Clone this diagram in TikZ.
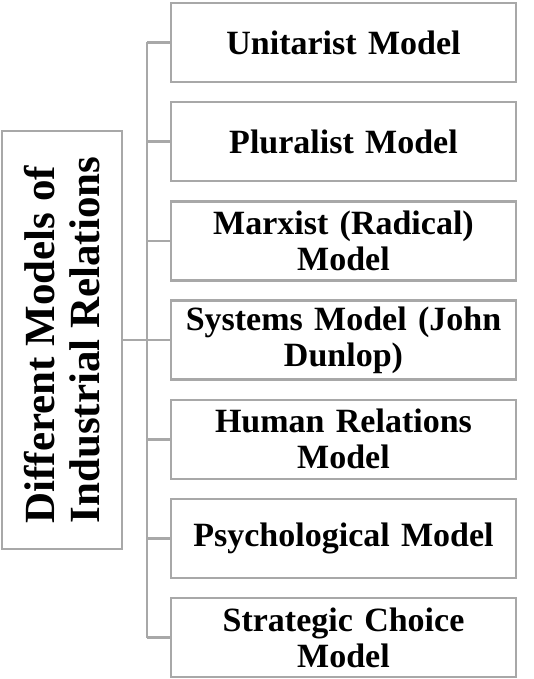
\documentclass[tikz,border=0pt]{standalone}
\usepackage{fontspec}
\setmainfont{Liberation Serif}
\usepackage{tikz}
\usetikzlibrary{calc}
\definecolor{boxgray}{RGB}{168,168,168}

\begin{document}
\begin{tikzpicture}[x=1pt, y=1pt,
        model/.style={draw=boxgray, line width=2.5pt, minimum width=345, minimum height=79,
            text width=335, align=center, inner sep=2pt,
            font=\fontsize{34}{36}\selectfont\bfseries},
        link/.style={draw=boxgray, line width=2.5pt}]
        \useasboundingbox (0,0) rectangle (534,679);
        \node [draw=boxgray, line width=2.5pt, rotate=90, minimum width=418, minimum height=120,
            align=left, inner sep=2pt, font=\fontsize{43}{45}\selectfont\bfseries] (main) at (62,339)
            {Different Models of\\Industrial Relations};
        \node [model] (unitarist) at (343.5,636.5) {Unitarist Model};
        \node [model] (pluralist) at (343.5,537.3) {Pluralist Model};
        \node [model] (marxist) at (343.5,438.1) {Marxist (Radical)\\Model};
        \node [model] (systems) at (343.5,338.9) {Systems Model (John\\Dunlop)};
        \node [model] (human) at (343.5,239.7) {Human Relations\\Model};
        \node [model] (psycho) at (343.5,140.5) {Psychological Model};
        \node [model] (strategic) at (343.5,41.3) {Strategic Choice\\Model};
        \coordinate (top) at ($(unitarist.west)+(-23,0)$);
        \coordinate (bottom) at ($(strategic.west)+(-23,0)$);
        \draw[link] (top) -- (bottom);
        \draw[link] (main.south) -- (main.south -| top);
        \draw[link] (unitarist.west) -- (top);
        \draw[link] (pluralist.west) -- (pluralist.west -| top);
        \draw[link] (marxist.west) -- (marxist.west -| top);
        \draw[link] (systems.west) -- (systems.west -| top);
        \draw[link] (human.west) -- (human.west -| top);
        \draw[link] (psycho.west) -- (psycho.west -| top);
        \draw[link] (strategic.west) -- (bottom);
    \end{tikzpicture}
\end{document}
